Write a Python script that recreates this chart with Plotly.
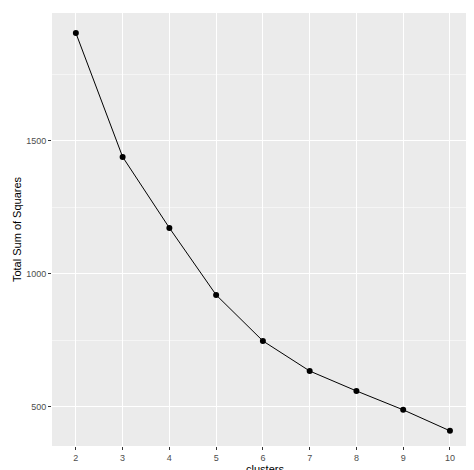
import plotly.graph_objects as go

clusters = [2, 3, 4, 5, 6, 7, 8, 9, 10]
tss = [1906, 1440, 1173, 921, 748, 635, 560, 489, 410]
y_ticks = [500, 1000, 1500]

fig = go.Figure(go.Scatter(x=clusters, y=tss, mode="lines+markers",
                           line=dict(color="black", width=1),
                           marker=dict(color="black", size=6)))
fig.update_layout(
    width=474, height=470, paper_bgcolor="white", plot_bgcolor="#EBEBEB",
    margin=dict(l=44, r=4, t=5, b=32), showlegend=False,
    font=dict(family="Liberation Sans, Arial", size=11, color="black"),
)
fig.update_xaxes(range=[1.49, 10.6], tickvals=clusters, showgrid=True, gridcolor="white",
                 gridwidth=1.2, zeroline=False, ticks="outside", ticklen=3, tickcolor="#333",
                 tickfont=dict(size=9, color="#4D4D4D"), automargin=False,
                 title=dict(text="clusters", standoff=2, font=dict(size=11)))
fig.update_yaxes(range=[353, 1981], tickvals=y_ticks, showgrid=True, gridcolor="white",
                 gridwidth=1.2, zeroline=False, ticks="outside", ticklen=3, tickcolor="#333",
                 minor=dict(tickvals=[750, 1250, 1750], showgrid=True, gridcolor="#F5F5F5", gridwidth=0.6),
                 tickfont=dict(size=9, color="#4D4D4D"), automargin=False,
                 title=dict(text="Total Sum of Squares", standoff=2, font=dict(size=11)))
fig.write_html("out.html")
